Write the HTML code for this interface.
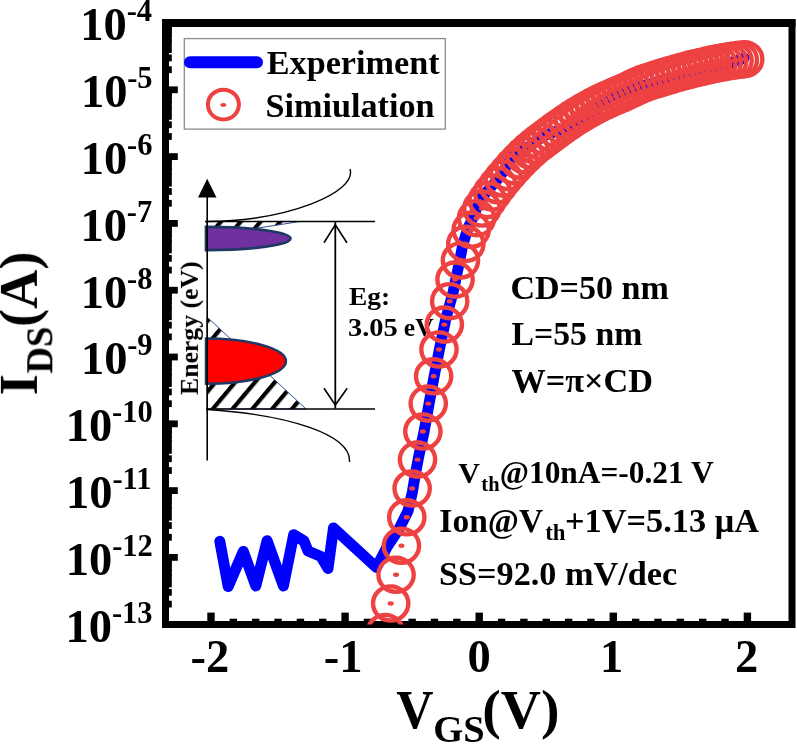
<!DOCTYPE html>
<html><head><meta charset="utf-8"><style>
html,body{margin:0;padding:0;background:#fff;}
svg{display:block;}
text{font-family:"Liberation Serif",serif;font-weight:bold;fill:#000;will-change:transform;}
</style></head><body>
<svg width="797" height="744" viewBox="0 0 797 744">
<defs>
<clipPath id="pc"><rect x="165.5" y="23" width="626.5" height="601.6"/></clipPath>
<pattern id="hatchT" patternUnits="userSpaceOnUse" x="6.2" y="0" width="15.17" height="20" patternTransform="rotate(40)">
<rect x="0" y="0" width="4.2" height="20" fill="#000"/>
</pattern>
<pattern id="hatchB" patternUnits="userSpaceOnUse" x="-1.0" y="0" width="15.17" height="20" patternTransform="rotate(40)">
<rect x="0" y="0" width="4.2" height="20" fill="#000"/>
</pattern>
</defs>
<rect width="797" height="744" fill="#fff"/>

<rect x="165.5" y="23" width="626.5" height="601.5" fill="none" stroke="#000" stroke-width="7"/>
<rect x="162" y="19" width="633.5" height="8" fill="#000"/>
<rect x="207.30" y="612.6" width="7.4" height="10" fill="#000"/><rect x="229.65" y="618.7" width="7.4" height="4" fill="#000"/><rect x="252.00" y="618.7" width="7.4" height="4" fill="#000"/><rect x="274.35" y="618.7" width="7.4" height="4" fill="#000"/><rect x="296.70" y="618.7" width="7.4" height="4" fill="#000"/><rect x="319.05" y="618.7" width="7.4" height="4" fill="#000"/><rect x="341.40" y="612.6" width="7.4" height="10" fill="#000"/><rect x="363.75" y="618.7" width="7.4" height="4" fill="#000"/><rect x="386.10" y="618.7" width="7.4" height="4" fill="#000"/><rect x="408.45" y="618.7" width="7.4" height="4" fill="#000"/><rect x="430.80" y="618.7" width="7.4" height="4" fill="#000"/><rect x="453.15" y="618.7" width="7.4" height="4" fill="#000"/><rect x="475.50" y="612.6" width="7.4" height="10" fill="#000"/><rect x="497.85" y="618.7" width="7.4" height="4" fill="#000"/><rect x="520.20" y="618.7" width="7.4" height="4" fill="#000"/><rect x="542.55" y="618.7" width="7.4" height="4" fill="#000"/><rect x="564.90" y="618.7" width="7.4" height="4" fill="#000"/><rect x="587.25" y="618.7" width="7.4" height="4" fill="#000"/><rect x="609.60" y="612.6" width="7.4" height="10" fill="#000"/><rect x="631.95" y="618.7" width="7.4" height="4" fill="#000"/><rect x="654.30" y="618.7" width="7.4" height="4" fill="#000"/><rect x="676.65" y="618.7" width="7.4" height="4" fill="#000"/><rect x="699.00" y="618.7" width="7.4" height="4" fill="#000"/><rect x="721.35" y="618.7" width="7.4" height="4" fill="#000"/><rect x="743.70" y="612.6" width="7.4" height="10" fill="#000"/><rect x="167" y="66.29" width="4.8" height="6.8" fill="#000"/><rect x="167" y="54.53" width="4.8" height="6.8" fill="#000"/><rect x="167" y="46.18" width="4.8" height="6.8" fill="#000"/><rect x="167" y="39.71" width="4.8" height="6.8" fill="#000"/><rect x="167" y="34.42" width="4.8" height="6.8" fill="#000"/><rect x="167" y="29.95" width="4.8" height="6.8" fill="#000"/><rect x="167" y="26.07" width="4.8" height="6.8" fill="#000"/><rect x="167" y="22.66" width="4.8" height="6.8" fill="#000"/><rect x="167" y="86.40" width="10.8" height="6.8" fill="#000"/><rect x="167" y="133.09" width="4.8" height="6.8" fill="#000"/><rect x="167" y="121.33" width="4.8" height="6.8" fill="#000"/><rect x="167" y="112.98" width="4.8" height="6.8" fill="#000"/><rect x="167" y="106.51" width="4.8" height="6.8" fill="#000"/><rect x="167" y="101.22" width="4.8" height="6.8" fill="#000"/><rect x="167" y="96.75" width="4.8" height="6.8" fill="#000"/><rect x="167" y="92.87" width="4.8" height="6.8" fill="#000"/><rect x="167" y="89.46" width="4.8" height="6.8" fill="#000"/><rect x="167" y="153.20" width="10.8" height="6.8" fill="#000"/><rect x="167" y="199.89" width="4.8" height="6.8" fill="#000"/><rect x="167" y="188.13" width="4.8" height="6.8" fill="#000"/><rect x="167" y="179.78" width="4.8" height="6.8" fill="#000"/><rect x="167" y="173.31" width="4.8" height="6.8" fill="#000"/><rect x="167" y="168.02" width="4.8" height="6.8" fill="#000"/><rect x="167" y="163.55" width="4.8" height="6.8" fill="#000"/><rect x="167" y="159.67" width="4.8" height="6.8" fill="#000"/><rect x="167" y="156.26" width="4.8" height="6.8" fill="#000"/><rect x="167" y="220.00" width="10.8" height="6.8" fill="#000"/><rect x="167" y="266.69" width="4.8" height="6.8" fill="#000"/><rect x="167" y="254.93" width="4.8" height="6.8" fill="#000"/><rect x="167" y="246.58" width="4.8" height="6.8" fill="#000"/><rect x="167" y="240.11" width="4.8" height="6.8" fill="#000"/><rect x="167" y="234.82" width="4.8" height="6.8" fill="#000"/><rect x="167" y="230.35" width="4.8" height="6.8" fill="#000"/><rect x="167" y="226.47" width="4.8" height="6.8" fill="#000"/><rect x="167" y="223.06" width="4.8" height="6.8" fill="#000"/><rect x="167" y="286.80" width="10.8" height="6.8" fill="#000"/><rect x="167" y="333.49" width="4.8" height="6.8" fill="#000"/><rect x="167" y="321.73" width="4.8" height="6.8" fill="#000"/><rect x="167" y="313.38" width="4.8" height="6.8" fill="#000"/><rect x="167" y="306.91" width="4.8" height="6.8" fill="#000"/><rect x="167" y="301.62" width="4.8" height="6.8" fill="#000"/><rect x="167" y="297.15" width="4.8" height="6.8" fill="#000"/><rect x="167" y="293.27" width="4.8" height="6.8" fill="#000"/><rect x="167" y="289.86" width="4.8" height="6.8" fill="#000"/><rect x="167" y="353.60" width="10.8" height="6.8" fill="#000"/><rect x="167" y="400.29" width="4.8" height="6.8" fill="#000"/><rect x="167" y="388.53" width="4.8" height="6.8" fill="#000"/><rect x="167" y="380.18" width="4.8" height="6.8" fill="#000"/><rect x="167" y="373.71" width="4.8" height="6.8" fill="#000"/><rect x="167" y="368.42" width="4.8" height="6.8" fill="#000"/><rect x="167" y="363.95" width="4.8" height="6.8" fill="#000"/><rect x="167" y="360.07" width="4.8" height="6.8" fill="#000"/><rect x="167" y="356.66" width="4.8" height="6.8" fill="#000"/><rect x="167" y="420.40" width="10.8" height="6.8" fill="#000"/><rect x="167" y="467.09" width="4.8" height="6.8" fill="#000"/><rect x="167" y="455.33" width="4.8" height="6.8" fill="#000"/><rect x="167" y="446.98" width="4.8" height="6.8" fill="#000"/><rect x="167" y="440.51" width="4.8" height="6.8" fill="#000"/><rect x="167" y="435.22" width="4.8" height="6.8" fill="#000"/><rect x="167" y="430.75" width="4.8" height="6.8" fill="#000"/><rect x="167" y="426.87" width="4.8" height="6.8" fill="#000"/><rect x="167" y="423.46" width="4.8" height="6.8" fill="#000"/><rect x="167" y="487.20" width="10.8" height="6.8" fill="#000"/><rect x="167" y="533.89" width="4.8" height="6.8" fill="#000"/><rect x="167" y="522.13" width="4.8" height="6.8" fill="#000"/><rect x="167" y="513.78" width="4.8" height="6.8" fill="#000"/><rect x="167" y="507.31" width="4.8" height="6.8" fill="#000"/><rect x="167" y="502.02" width="4.8" height="6.8" fill="#000"/><rect x="167" y="497.55" width="4.8" height="6.8" fill="#000"/><rect x="167" y="493.67" width="4.8" height="6.8" fill="#000"/><rect x="167" y="490.26" width="4.8" height="6.8" fill="#000"/><rect x="167" y="554.00" width="10.8" height="6.8" fill="#000"/><rect x="167" y="600.69" width="4.8" height="6.8" fill="#000"/><rect x="167" y="588.93" width="4.8" height="6.8" fill="#000"/><rect x="167" y="580.58" width="4.8" height="6.8" fill="#000"/><rect x="167" y="574.11" width="4.8" height="6.8" fill="#000"/><rect x="167" y="568.82" width="4.8" height="6.8" fill="#000"/><rect x="167" y="564.35" width="4.8" height="6.8" fill="#000"/><rect x="167" y="560.47" width="4.8" height="6.8" fill="#000"/><rect x="167" y="557.06" width="4.8" height="6.8" fill="#000"/>
<path d="M207,221.5 L300,221.5 L207,236 Z" fill="url(#hatchT)" stroke="#2f4f8f" stroke-width="1"/>
<path d="M207,317 L306,409 L207,409 Z" fill="url(#hatchB)" stroke="#2f4f8f" stroke-width="1"/>
<path d="M206,226.9 A84.5,11.6 0 0 1 206,250.1 Z" fill="#7030a0" stroke="#1f3864" stroke-width="2.7"/>
<path d="M206,338.6 A80,22.6 0 0 1 206,383.8 Z" fill="#ff0000" stroke="#1f3864" stroke-width="2.5"/>
<line x1="207.2" y1="196" x2="207.2" y2="460.5" stroke="#000" stroke-width="1.6"/>
<path d="M207.2,178.8 L198,197.6 L216.5,197.6 Z" fill="#000"/>
<line x1="205" y1="221.5" x2="375" y2="221.5" stroke="#000" stroke-width="1.6"/>
<line x1="206" y1="409" x2="375" y2="409" stroke="#000" stroke-width="1.6"/>
<path d="M207,221.5 C287.6,221.1 357.3,192.5 350,169" fill="none" stroke="#000" stroke-width="1.4"/>
<path d="M207,409.5 C288.8,414.8 351.4,434.4 349.5,462" fill="none" stroke="#000" stroke-width="1.4"/>
<line x1="335.3" y1="222" x2="335.3" y2="408.5" stroke="#000" stroke-width="1.8"/>
<path d="M324,242.7 L335.3,224.8 L346.9,242.7" fill="none" stroke="#000" stroke-width="1.6"/>
<path d="M324,388.2 L335.3,405 L347.2,388.2" fill="none" stroke="#000" stroke-width="1.6"/>
<text transform="translate(349.03,304.60) scale(1.0543,1)" font-size="26" >Eg:</text>
<text transform="translate(347.93,335.70) scale(1.1478,1)" font-size="24.8" >3.05</text>
<text x="403.83" y="335.70" font-size="25.5" >eV</text>
<g transform="translate(197.9,394.5) rotate(-90)"><text transform="translate(-0.44,0.00) scale(1.0456,1)" font-size="24.6" >Energy (eV)</text></g>
<g clip-path="url(#pc)"><path d="M219.8,541.3 L228.2,586.5 L243.3,551.4 L255.8,585.9 L267.1,540.7 L283.4,585.9 L293.7,534.7 L304.0,541.0 L308.0,551.0 L321.0,556.5 L328.0,568.5 L333.5,528.0 L376.5,567.5 L387.0,547.0 L399.0,529.0 L408.0,511.0 L412.4,492.0 L415.3,474.4 L419.0,455.0 L424.0,432.0 L429.0,404.0 L434.0,377.0 L439.5,349.0 L446.0,318.0 L453.0,292.8 L458.9,264.5 L462.9,244.4 L468.0,228.0 L473.0,217.5 L477.0,207.0 L482.0,197.4 L497.0,180.0 L503.0,172.0 L510.0,160.0 L516.0,153.0 L528.0,147.6 L543.0,136.0 L560.0,130.0 L576.0,124.7 L587.0,117.0 L608.0,98.0 L628.0,89.0 L647.0,85.0 L663.0,80.3 L679.0,77.0 L700.0,71.7 L721.0,68.0 L733.0,62.0 L744.0,58.0" fill="none" stroke="#0000ff" stroke-width="11" stroke-linejoin="round" stroke-linecap="round"/>
<g fill="none" stroke="#ee4242" stroke-width="4.4"><ellipse cx="385.33" cy="632.00" rx="17.65" ry="17.1"/><ellipse cx="390.69" cy="603.50" rx="17.65" ry="17.1"/><ellipse cx="396.06" cy="574.80" rx="17.65" ry="17.1"/><ellipse cx="401.42" cy="545.80" rx="17.65" ry="17.1"/><ellipse cx="406.79" cy="517.30" rx="17.65" ry="17.1"/><ellipse cx="412.15" cy="488.50" rx="17.65" ry="17.1"/><ellipse cx="417.51" cy="459.60" rx="17.65" ry="17.1"/><ellipse cx="422.88" cy="431.50" rx="17.65" ry="17.1"/><ellipse cx="428.24" cy="403.60" rx="17.65" ry="17.1"/><ellipse cx="433.61" cy="376.30" rx="17.65" ry="17.1"/><ellipse cx="438.97" cy="349.50" rx="17.65" ry="17.1"/><ellipse cx="444.33" cy="324.60" rx="17.65" ry="17.1"/><ellipse cx="449.70" cy="301.20" rx="17.65" ry="17.1"/><ellipse cx="455.06" cy="279.60" rx="17.65" ry="17.1"/><ellipse cx="460.43" cy="260.50" rx="17.65" ry="17.1"/><ellipse cx="465.79" cy="243.90" rx="17.65" ry="17.1"/><ellipse cx="471.15" cy="229.80" rx="17.65" ry="17.1"/><ellipse cx="476.52" cy="218.20" rx="17.65" ry="17.1"/><ellipse cx="481.88" cy="208.50" rx="17.65" ry="17.1"/><ellipse cx="487.25" cy="200.10" rx="17.65" ry="17.1"/><ellipse cx="492.61" cy="192.50" rx="17.65" ry="17.1"/><ellipse cx="497.97" cy="185.32" rx="17.65" ry="17.1"/><ellipse cx="503.34" cy="178.59" rx="17.65" ry="17.1"/><ellipse cx="508.70" cy="172.30" rx="17.65" ry="17.1"/><ellipse cx="514.07" cy="166.28" rx="17.65" ry="17.1"/><ellipse cx="519.43" cy="160.60" rx="17.65" ry="17.1"/><ellipse cx="524.79" cy="155.26" rx="17.65" ry="17.1"/><ellipse cx="530.16" cy="150.25" rx="17.65" ry="17.1"/><ellipse cx="535.52" cy="145.68" rx="17.65" ry="17.1"/><ellipse cx="540.89" cy="141.52" rx="17.65" ry="17.1"/><ellipse cx="546.25" cy="137.50" rx="17.65" ry="17.1"/><ellipse cx="551.61" cy="133.47" rx="17.65" ry="17.1"/><ellipse cx="556.98" cy="129.53" rx="17.65" ry="17.1"/><ellipse cx="562.34" cy="125.70" rx="17.65" ry="17.1"/><ellipse cx="567.71" cy="121.96" rx="17.65" ry="17.1"/><ellipse cx="573.07" cy="118.40" rx="17.65" ry="17.1"/><ellipse cx="578.43" cy="115.04" rx="17.65" ry="17.1"/><ellipse cx="583.80" cy="111.84" rx="17.65" ry="17.1"/><ellipse cx="589.16" cy="108.79" rx="17.65" ry="17.1"/><ellipse cx="594.53" cy="105.85" rx="17.65" ry="17.1"/><ellipse cx="599.89" cy="103.10" rx="17.65" ry="17.1"/><ellipse cx="605.25" cy="100.57" rx="17.65" ry="17.1"/><ellipse cx="610.62" cy="98.18" rx="17.65" ry="17.1"/><ellipse cx="615.98" cy="95.83" rx="17.65" ry="17.1"/><ellipse cx="621.35" cy="93.55" rx="17.65" ry="17.1"/><ellipse cx="626.71" cy="91.20" rx="17.65" ry="17.1"/><ellipse cx="632.07" cy="88.58" rx="17.65" ry="17.1"/><ellipse cx="637.44" cy="85.96" rx="17.65" ry="17.1"/><ellipse cx="642.80" cy="83.78" rx="17.65" ry="17.1"/><ellipse cx="648.17" cy="81.94" rx="17.65" ry="17.1"/><ellipse cx="653.53" cy="80.20" rx="17.65" ry="17.1"/><ellipse cx="658.89" cy="78.47" rx="17.65" ry="17.1"/><ellipse cx="664.26" cy="76.81" rx="17.65" ry="17.1"/><ellipse cx="669.62" cy="75.21" rx="17.65" ry="17.1"/><ellipse cx="674.99" cy="73.68" rx="17.65" ry="17.1"/><ellipse cx="680.35" cy="72.20" rx="17.65" ry="17.1"/><ellipse cx="685.71" cy="70.76" rx="17.65" ry="17.1"/><ellipse cx="691.08" cy="69.38" rx="17.65" ry="17.1"/><ellipse cx="696.44" cy="68.03" rx="17.65" ry="17.1"/><ellipse cx="701.81" cy="66.74" rx="17.65" ry="17.1"/><ellipse cx="707.17" cy="65.50" rx="17.65" ry="17.1"/><ellipse cx="712.53" cy="64.32" rx="17.65" ry="17.1"/><ellipse cx="717.90" cy="63.21" rx="17.65" ry="17.1"/><ellipse cx="723.26" cy="62.22" rx="17.65" ry="17.1"/><ellipse cx="728.63" cy="61.31" rx="17.65" ry="17.1"/><ellipse cx="733.99" cy="60.50" rx="17.65" ry="17.1"/><ellipse cx="739.35" cy="59.80" rx="17.65" ry="17.1"/><ellipse cx="744.72" cy="59.20" rx="17.65" ry="17.1"/></g>
<g fill="#ee4242"><ellipse cx="385.33" cy="632.00" rx="3" ry="2.2"/><ellipse cx="390.69" cy="603.50" rx="3" ry="2.2"/><ellipse cx="396.06" cy="574.80" rx="3" ry="2.2"/><ellipse cx="401.42" cy="545.80" rx="3" ry="2.2"/><ellipse cx="406.79" cy="517.30" rx="3" ry="2.2"/><ellipse cx="412.15" cy="488.50" rx="3" ry="2.2"/><ellipse cx="417.51" cy="459.60" rx="3" ry="2.2"/><ellipse cx="422.88" cy="431.50" rx="3" ry="2.2"/><ellipse cx="428.24" cy="403.60" rx="3" ry="2.2"/><ellipse cx="433.61" cy="376.30" rx="3" ry="2.2"/><ellipse cx="438.97" cy="349.50" rx="3" ry="2.2"/><ellipse cx="444.33" cy="324.60" rx="3" ry="2.2"/><ellipse cx="449.70" cy="301.20" rx="3" ry="2.2"/><ellipse cx="455.06" cy="279.60" rx="3" ry="2.2"/><ellipse cx="460.43" cy="260.50" rx="3" ry="2.2"/><ellipse cx="465.79" cy="243.90" rx="3" ry="2.2"/><ellipse cx="471.15" cy="229.80" rx="3" ry="2.2"/><ellipse cx="476.52" cy="218.20" rx="3" ry="2.2"/><ellipse cx="481.88" cy="208.50" rx="3" ry="2.2"/><ellipse cx="487.25" cy="200.10" rx="3" ry="2.2"/><ellipse cx="492.61" cy="192.50" rx="3" ry="2.2"/><ellipse cx="497.97" cy="185.32" rx="3" ry="2.2"/><ellipse cx="503.34" cy="178.59" rx="3" ry="2.2"/><ellipse cx="508.70" cy="172.30" rx="3" ry="2.2"/><ellipse cx="514.07" cy="166.28" rx="3" ry="2.2"/><ellipse cx="519.43" cy="160.60" rx="3" ry="2.2"/><ellipse cx="524.79" cy="155.26" rx="3" ry="2.2"/><ellipse cx="530.16" cy="150.25" rx="3" ry="2.2"/><ellipse cx="535.52" cy="145.68" rx="3" ry="2.2"/><ellipse cx="540.89" cy="141.52" rx="3" ry="2.2"/><ellipse cx="546.25" cy="137.50" rx="3" ry="2.2"/><ellipse cx="551.61" cy="133.47" rx="3" ry="2.2"/><ellipse cx="556.98" cy="129.53" rx="3" ry="2.2"/><ellipse cx="562.34" cy="125.70" rx="3" ry="2.2"/><ellipse cx="567.71" cy="121.96" rx="3" ry="2.2"/><ellipse cx="573.07" cy="118.40" rx="3" ry="2.2"/><ellipse cx="578.43" cy="115.04" rx="3" ry="2.2"/><ellipse cx="583.80" cy="111.84" rx="3" ry="2.2"/><ellipse cx="589.16" cy="108.79" rx="3" ry="2.2"/><ellipse cx="594.53" cy="105.85" rx="3" ry="2.2"/><ellipse cx="599.89" cy="103.10" rx="3" ry="2.2"/><ellipse cx="605.25" cy="100.57" rx="3" ry="2.2"/><ellipse cx="610.62" cy="98.18" rx="3" ry="2.2"/><ellipse cx="615.98" cy="95.83" rx="3" ry="2.2"/><ellipse cx="621.35" cy="93.55" rx="3" ry="2.2"/><ellipse cx="626.71" cy="91.20" rx="3" ry="2.2"/><ellipse cx="632.07" cy="88.58" rx="3" ry="2.2"/><ellipse cx="637.44" cy="85.96" rx="3" ry="2.2"/><ellipse cx="642.80" cy="83.78" rx="3" ry="2.2"/><ellipse cx="648.17" cy="81.94" rx="3" ry="2.2"/><ellipse cx="653.53" cy="80.20" rx="3" ry="2.2"/><ellipse cx="658.89" cy="78.47" rx="3" ry="2.2"/><ellipse cx="664.26" cy="76.81" rx="3" ry="2.2"/><ellipse cx="669.62" cy="75.21" rx="3" ry="2.2"/><ellipse cx="674.99" cy="73.68" rx="3" ry="2.2"/><ellipse cx="680.35" cy="72.20" rx="3" ry="2.2"/><ellipse cx="685.71" cy="70.76" rx="3" ry="2.2"/><ellipse cx="691.08" cy="69.38" rx="3" ry="2.2"/><ellipse cx="696.44" cy="68.03" rx="3" ry="2.2"/><ellipse cx="701.81" cy="66.74" rx="3" ry="2.2"/><ellipse cx="707.17" cy="65.50" rx="3" ry="2.2"/><ellipse cx="712.53" cy="64.32" rx="3" ry="2.2"/><ellipse cx="717.90" cy="63.21" rx="3" ry="2.2"/><ellipse cx="723.26" cy="62.22" rx="3" ry="2.2"/><ellipse cx="728.63" cy="61.31" rx="3" ry="2.2"/><ellipse cx="733.99" cy="60.50" rx="3" ry="2.2"/><ellipse cx="739.35" cy="59.80" rx="3" ry="2.2"/><ellipse cx="744.72" cy="59.20" rx="3" ry="2.2"/></g></g>
<text x="126.66" y="21.40" font-size="30.5" >-4</text><text x="80.35" y="40.30" font-size="46.5" >10</text><text x="127.21" y="88.20" font-size="30.5" >-5</text><text x="80.90" y="107.10" font-size="46.5" >10</text><text x="126.99" y="155.00" font-size="30.5" >-6</text><text x="80.67" y="173.90" font-size="46.5" >10</text><text x="126.84" y="221.80" font-size="30.5" >-7</text><text x="80.53" y="240.70" font-size="46.5" >10</text><text x="127.11" y="288.60" font-size="30.5" >-8</text><text x="80.79" y="307.50" font-size="46.5" >10</text><text x="127.20" y="355.40" font-size="30.5" >-9</text><text x="80.88" y="374.30" font-size="46.5" >10</text><text x="112.00" y="422.20" font-size="30.5" >-10</text><text x="65.69" y="441.10" font-size="46.5" >10</text><text x="112.42" y="489.00" font-size="30.5" >-11</text><text x="66.11" y="507.90" font-size="46.5" >10</text><text x="112.15" y="555.80" font-size="30.5" >-12</text><text x="65.84" y="574.70" font-size="46.5" >10</text><text x="111.89" y="622.60" font-size="30.5" >-13</text><text x="65.57" y="641.50" font-size="46.5" >10</text><text x="190.58" y="672.30" font-size="46.5" >-2</text><text x="323.78" y="672.30" font-size="46.5" >-1</text><text x="467.57" y="672.30" font-size="46.5" >0</text><text x="600.12" y="672.30" font-size="46.5" >1</text><text x="735.05" y="672.30" font-size="46.5" >2</text>
<text transform="translate(396.22,727.80) scale(0.9554,1)" font-size="54" >V</text>
<text transform="translate(433.32,741.70) scale(1.0257,1)" font-size="37.5" >GS</text>
<text transform="translate(482.36,727.70) scale(1.0297,1)" font-size="54" >(V)</text>
<g transform="translate(36.9,393.5) rotate(-90)"><text x="-1.82" y="0.00" font-size="54" >I</text><text transform="translate(19.95,15.40) scale(0.9806,1)" font-size="37.5" >DS</text><text transform="translate(66.62,0.00) scale(1.0040,1)" font-size="54" >(A)</text></g>
<rect x="184.3" y="38.6" width="261" height="90.5" fill="#fff" stroke="#8c8c8c" stroke-width="1.3"/>
<line x1="190" y1="62.3" x2="257" y2="62.3" stroke="#0000ff" stroke-width="12" stroke-linecap="round"/>
<ellipse cx="223.4" cy="104.6" rx="15.5" ry="14.9" fill="none" stroke="#ee4242" stroke-width="4"/><ellipse cx="223.3" cy="104.9" rx="3" ry="1.8" fill="#ee4242"/>
<text transform="translate(266.71,74.30) scale(1.0068,1)" font-size="34" >Experiment</text>
<text transform="translate(265.48,116.60) scale(1.0058,1)" font-size="34" >Simiulation</text>
<text transform="translate(510.44,298.50) scale(1.0015,1)" font-size="34" >CD=50 nm</text>
<text transform="translate(511.52,344.60) scale(0.9922,1)" font-size="34" >L=55 nm</text>
<text transform="translate(511.62,391.70) scale(1.0069,1)" font-size="34" >W=π×CD</text>
<text transform="translate(458.16,483.40) scale(0.9840,1)" font-size="30.5" >V</text>
<text x="481.37" y="490.90" font-size="20.4" >th</text>
<text transform="translate(499.76,483.40) scale(1.0130,1)" font-size="31" >@10nA=-0.21 V</text>
<text transform="translate(439.37,531.50) scale(0.9704,1)" font-size="34.5" >Ion@V</text>
<text transform="translate(545.13,539.50) scale(0.9933,1)" font-size="23" >th</text>
<text transform="translate(564.99,531.50) scale(0.9949,1)" font-size="34.5" >+1V=5.13 μA</text>
<text transform="translate(438.98,585.30) scale(0.9920,1)" font-size="34.5" >SS=92.0 mV/dec</text>
</svg></body></html>
